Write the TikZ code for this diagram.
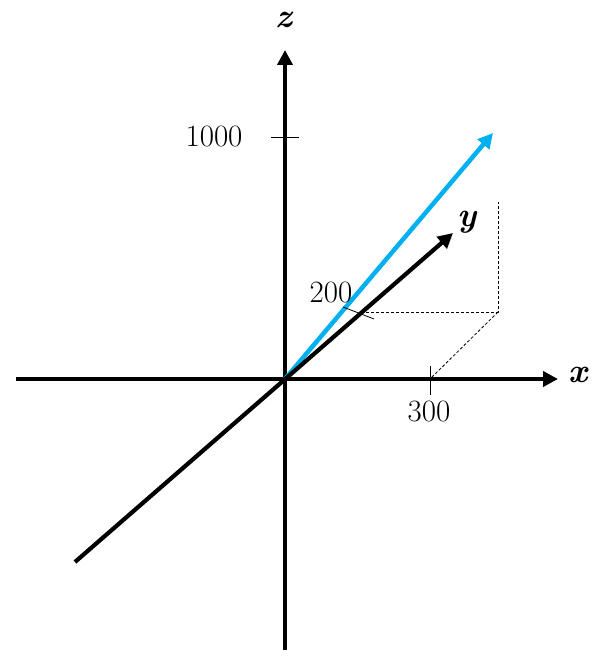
\documentclass[tikz,border=0pt]{standalone}
\usepackage{fontspec}
\setmainfont{Latin Modern Roman}
\usetikzlibrary{arrows.meta}
\definecolor{vblue}{RGB}{0,176,240}
\begin{document}
\begin{tikzpicture}[x=1pt,y=1pt,
  axis/.style={line width=4.2pt,-{Triangle[length=15pt,width=15pt]}},
  vec/.style={line width=4.5pt,draw=vblue,-{Triangle[length=15pt,width=15pt]}},
  tick/.style={line width=0.8pt},
  guide/.style={line width=0.8pt,dash pattern=on 3pt off 2pt},
  num/.style={font=\fontsize{31}{34}\selectfont,inner sep=0pt},
  lab/.style={font=\fontsize{34}{38}\selectfont\bfseries\itshape,inner sep=0pt}]
\useasboundingbox (0,0) rectangle (598,663);
\coordinate (O) at (285,284);
\coordinate (zb) at (285,13);
\coordinate (zt) at (285,613);
\coordinate (xl) at (16,284);
\coordinate (xr) at (558,284);
\coordinate (yb) at (75,101);
\coordinate (yt) at (453,430);
\coordinate (vt) at (493,530);
% ticks
\coordinate (t1a) at (271,526);
\coordinate (t1b) at (299,526);
\coordinate (t3a) at (430,297);
\coordinate (t3b) at (430,268);
\coordinate (t2a) at (343,356);
\coordinate (t2b) at (374,344);
% guides
\coordinate (g1) at (366,351);
\coordinate (g2) at (498,351);
\coordinate (g3) at (498,461);
\coordinate (g4) at (430,284);
\draw[axis] (zb) -- (zt);
\draw[axis] (xl) -- (xr);
\draw[vec] (O) -- (vt);
\draw[axis] (yb) -- (yt);
\draw[tick] (t1a) -- (t1b);
\draw[tick] (t3a) -- (t3b);
\draw[tick] (t2a) -- (t2b);
\draw[guide] (g1) -- (g2) -- (g3);
\draw[guide] (g2) -- (g4);
\node[lab] (zl) at (284,643) {z};
\node[lab] (xlab) at (578,288) {x};
\node[lab] (ylab) at (467,441) {y};
\node[num] (n1000) at (214,526) {1000};
\node[num] (n300) at (429,251) {300};
\node[num] (n200) at (331,370) {200};
\end{tikzpicture}
\end{document}
